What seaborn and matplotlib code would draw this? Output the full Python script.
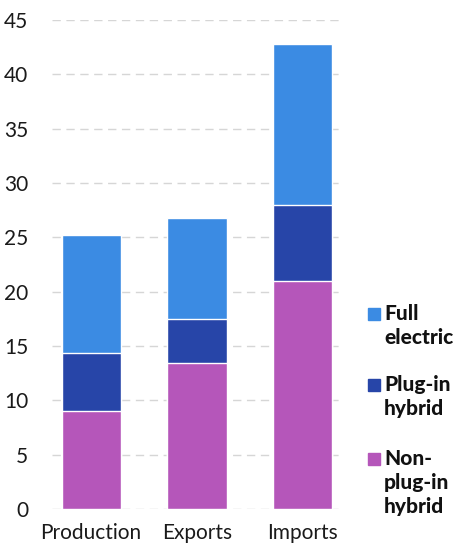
import numpy as np
import pandas as pd
import matplotlib
matplotlib.use('Agg')
import matplotlib.pyplot as plt
import matplotlib.patches as mpatches
import seaborn as sns

categories = ['Production', 'Exports', 'Imports']
non_plug_in = [9.0, 13.45, 21.0]
plug_in = [5.4, 4.05, 6.95]
full_electric = [10.8, 9.3, 14.85]

series_names = ['Full\nelectric', 'Plug-in\nhybrid', 'Non-\nplug-in\nhybrid']
colors = ['#3b8be3', '#2745a8', '#b556ba']

df = pd.DataFrame({
    'category': categories,
    'non': non_plug_in,
    'plug': plug_in,
    'full': full_electric,
})
df['lvl1'] = df['non']
df['lvl2'] = df['non'] + df['plug']
df['lvl3'] = df['lvl2'] + df['full']

sns.set_style('white')
plt.rcParams['font.family'] = ['Lato', 'DejaVu Sans']

W, H = 454, 545
fig = plt.figure(figsize=(W / 100, H / 100), dpi=100)
ax = fig.add_axes([52 / W, 1 - 509 / H, (343 - 52) / W, (509 - 20) / H])

# stacked bars: draw cumulative totals from the top down
for col, color in zip(['lvl3', 'lvl2', 'lvl1'], colors):
    sns.barplot(data=df, x='category', y=col, color=color, width=0.56,
                edgecolor='white', linewidth=1, ax=ax, saturation=1)

ax.set_xlim(-0.37, 2.38)
ax.set_ylim(0, 45)
ax.set_yticks(np.arange(0, 46, 5))
ax.yaxis.grid(True, linestyle=(0, (6, 4)), color='#d6d6d6', linewidth=1)
ax.set_axisbelow(True)
for s in ax.spines.values():
    s.set_visible(False)
ax.set_xlabel('')
ax.set_ylabel('')
ax.tick_params(axis='both', length=0, labelsize=15, colors='#1a1a1a')
ax.tick_params(axis='y', pad=17)
ax.tick_params(axis='x', pad=10)

# legend drawn by hand so the swatch sits on the first text line
legend_tops = [307, 378, 452]
for name, color, top in zip(series_names, colors, legend_tops):
    fig.patches.append(mpatches.Rectangle((368 / W, 1 - (top + 13) / H), 12 / W, 12 / H,
                                          transform=fig.transFigure, color=color))
    fig.text(384 / W, 1 - (top - 3) / H, name, ha='left', va='top',
             fontsize=15, fontweight='black', color='#111111', linespacing=1.3)

fig.savefig('out.png', dpi=100)
